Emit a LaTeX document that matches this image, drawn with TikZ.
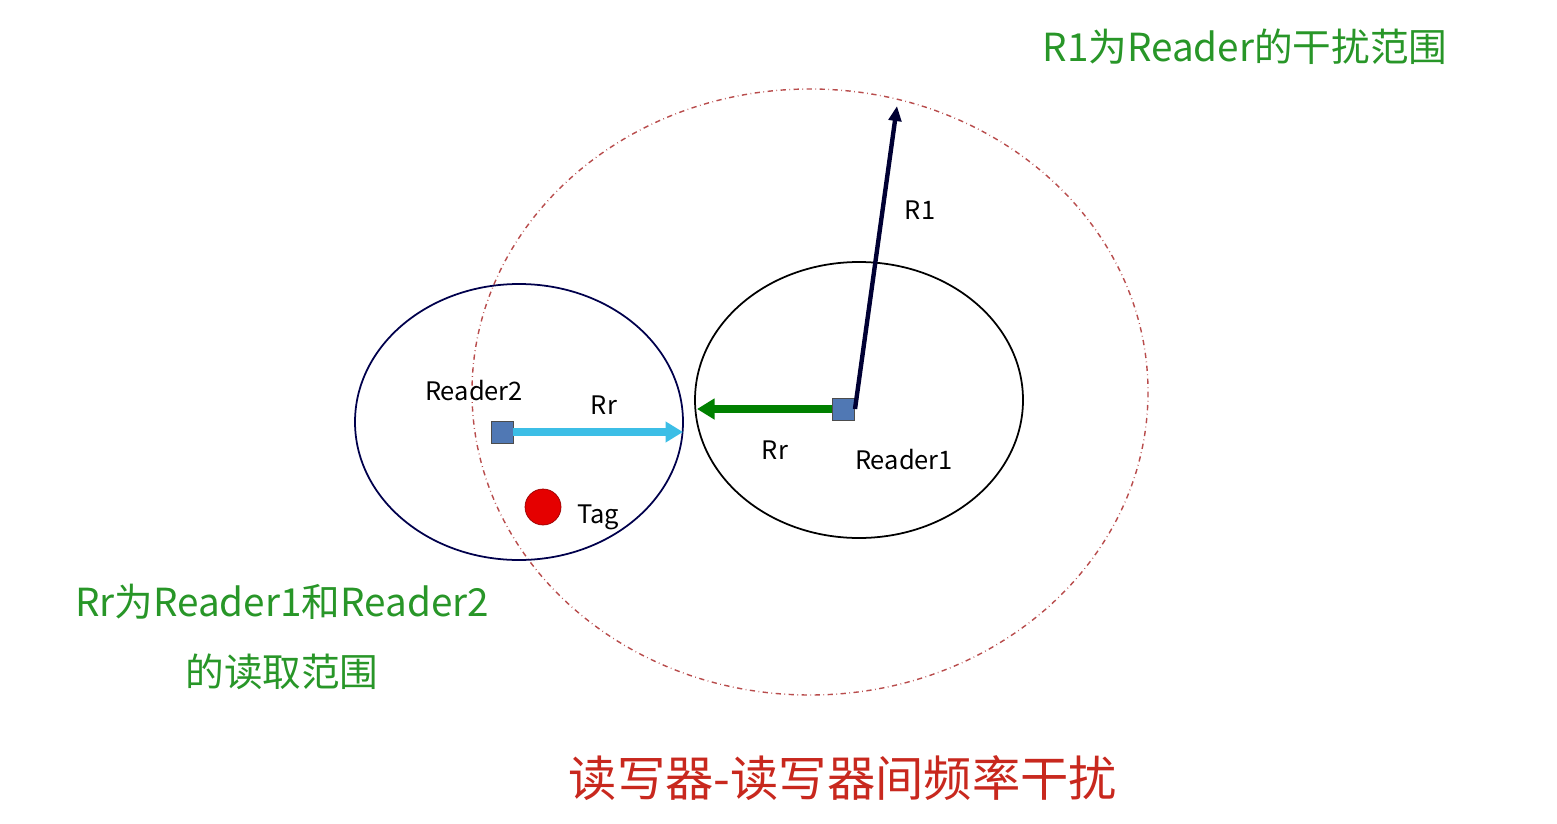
\documentclass[tikz,border=0pt]{standalone}
\usepackage{fontspec}
\setmainfont{Noto Sans CJK SC}
\usetikzlibrary{arrows.meta}
\definecolor{gtxt}{RGB}{40,150,40}
\definecolor{rtxt}{RGB}{200,40,30}
\definecolor{sq}{RGB}{80,120,180}
\definecolor{cy}{RGB}{60,190,230}
\tikzset{
 lbl/.style={font=\fontsize{14.5}{17}\selectfont, inner sep=0pt},
 gnote/.style={font=\fontsize{22}{26}\selectfont, text=gtxt, inner sep=0pt},
 rdr/.style={draw=black!70, fill=sq, minimum size=0.44cm, inner sep=0pt},
 arr/.style={line width=#1, -{Triangle[length=0.35cm,width=0.4cm]}},
}
\begin{document}
\begin{tikzpicture}[x=0.02cm,y=-0.02cm]
\useasboundingbox (0,0) rectangle (1557,824);
\draw[red!60!black!70, dash dot, line width=0.8pt] (810,392) ellipse [x radius=338, y radius=303];
\draw[blue!30!black, line width=1pt] (519,422) ellipse [x radius=164, y radius=138];
\draw[black, line width=1pt] (859,400) ellipse [x radius=164, y radius=138];
\node[rdr] (r1) at (843,409) {};
\node[rdr] (r2) at (502,432) {};
\coordinate (r1top) at (897,106);
\coordinate (r1left) at (697,409);
\coordinate (r2right) at (683,432);
\draw[arr=2.5pt, blue!20!black, -{Triangle[length=0.3cm,width=0.25cm]}] (855,409) -- (r1top);
\draw[arr=4pt, green!50!black] (r1.west) -- (r1left);
\draw[arr=4.5pt, cy] (r2.east) -- (r2right);
\node[circle, fill=red!90!black, draw=red!60!black, minimum size=0.72cm, inner sep=0pt] (tag) at (543,507) {};
\node[lbl] (tR1) at (920,210) {R1};
\node[lbl] (tRr1) at (775,450) {Rr};
\node[lbl] (tRr2) at (604,405) {Rr};
\node[lbl] (tr2) at (474,391) {Reader2};
\node[lbl] (tr1) at (904,460) {Reader1};
\node[lbl] (ttag) at (598,517) {Tag};
\node[gnote] (n1) at (1245,47) {R1为Reader的干扰范围};
\node[gnote] (n2) at (282,602) {Rr为Reader1和Reader2};
\node[gnote] (n3) at (282,672) {的读取范围};
\node[font=\fontsize{27.5}{32}\selectfont, text=rtxt, inner sep=0pt] (title) at (843,778) {读写器-读写器间频率干扰};
\end{tikzpicture}
\end{document}
